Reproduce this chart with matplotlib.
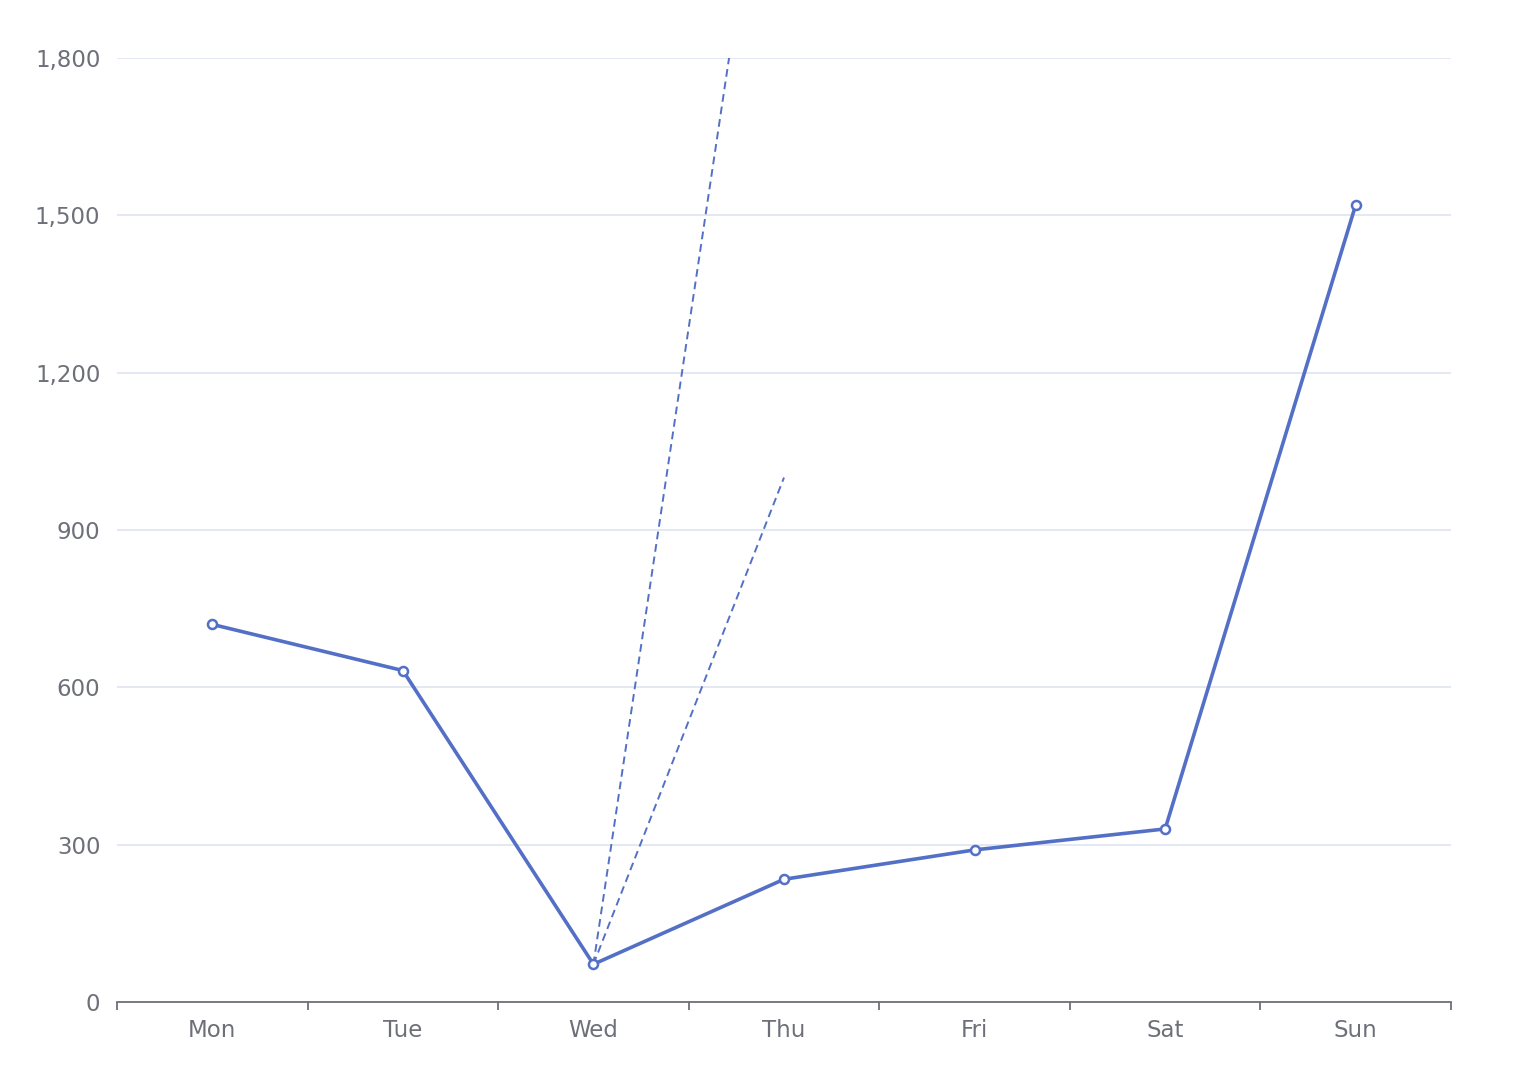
import matplotlib
matplotlib.use("Agg")
import matplotlib.pyplot as plt
from matplotlib.ticker import FuncFormatter, FixedLocator

days = ["Mon", "Tue", "Wed", "Thu", "Fri", "Sat", "Sun"]
values = [720, 632, 72, 234, 290, 330, 1520]

# mark lines: (start category, start value, end category, end value)
mark_starts = [("Wed", 72), ("Wed", 72)]
mark_ends = [("Thu", 2500), ("Thu", 1000)]

y_ticks = [0, 300, 600, 900, 1200, 1500, 1800]

LINE = "#5470c6"
TEXT = "#6e7079"
GRID = "#e0e6f1"

fig = plt.figure(figsize=(15.28, 10.88), dpi=100)
ax = fig.add_axes([117 / 1528, 86 / 1088, (1451 - 117) / 1528, (1002 - 58) / 1088])

xs = list(range(len(days)))
idx = {d: i for i, d in enumerate(days)}

for (sd, sv), (ed, ev) in zip(mark_starts, mark_ends):
    ln, = ax.plot([idx[sd], idx[ed]], [sv, ev], color=LINE, lw=1.4, zorder=2)
    ln.set_dashes((4, 2.5))

ax.plot(xs, values, color=LINE, lw=2.6, zorder=3, marker="o", markersize=6.5,
        markerfacecolor="white", markeredgecolor=LINE, markeredgewidth=1.8,
        solid_joinstyle="round")

ax.set_xlim(-0.5, len(days) - 0.5)
ax.set_ylim(0, 1800)

ax.set_yticks(y_ticks)
ax.yaxis.set_major_formatter(FuncFormatter(lambda v, p: f"{int(v):,}"))
ax.tick_params(axis="y", length=0, pad=12, labelsize=16.5, labelcolor=TEXT)
ax.grid(axis="y", color=GRID, lw=1.3)
ax.set_axisbelow(True)

ax.xaxis.set_major_locator(FixedLocator([i - 0.5 for i in range(len(days) + 1)]))
ax.xaxis.set_major_formatter(FuncFormatter(lambda v, p: ""))
ax.xaxis.set_minor_locator(FixedLocator(xs))
ax.set_xticklabels(days, minor=True)
ax.tick_params(axis="x", which="major", length=6, width=1.3, color=TEXT, direction="out")
ax.tick_params(axis="x", which="minor", length=0, pad=12, labelsize=16.5, labelcolor=TEXT)

for s in ["top", "right", "left"]:
    ax.spines[s].set_visible(False)
ax.spines["bottom"].set_color(TEXT)
ax.spines["bottom"].set_linewidth(1.3)
ax.spines["bottom"].set_zorder(4)

fig.savefig("out.png", dpi=100, facecolor="white")
